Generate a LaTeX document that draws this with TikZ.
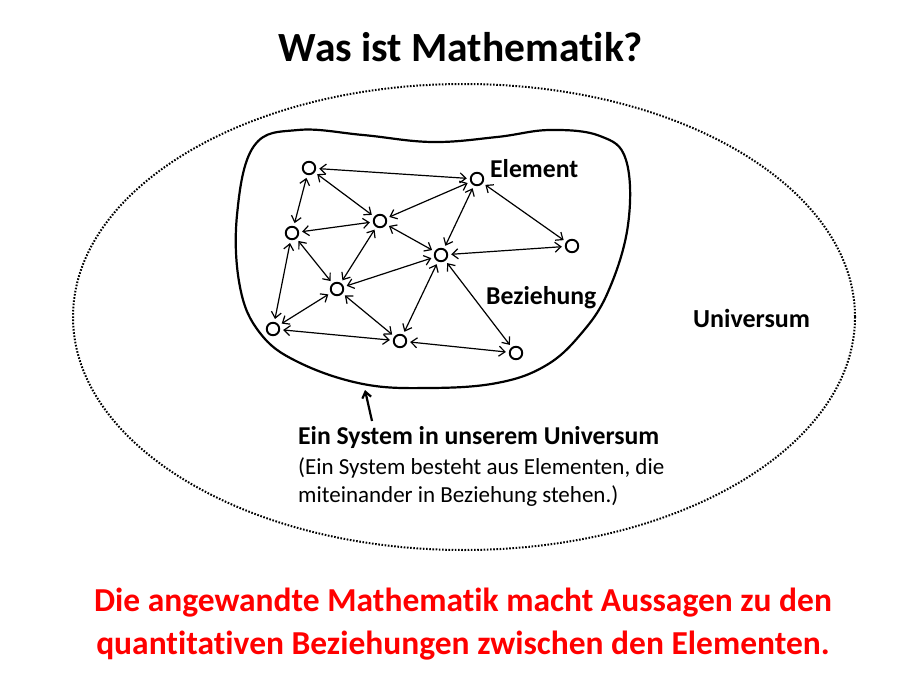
\documentclass[tikz,border=0pt]{standalone}
\usepackage{fontspec}
\setmainfont{Carlito}[Ligatures=NoCommon]
\usetikzlibrary{arrows.meta,positioning}

\begin{document}
\begin{tikzpicture}[x=1pt,y=-1pt,
	elem/.style={circle,draw,line width=1.9pt,minimum size=12.5pt,inner sep=0pt},
	rel/.style={{Straight Barb[length=6pt,width=10pt]}-{Straight Barb[length=6pt,width=10pt]},line width=1.2pt,shorten <=3pt,shorten >=3pt},
	lbl/.style={font=\fontsize{25.7}{30}\selectfont\bfseries,anchor=base west,inner sep=0pt},
	note/.style={font=\fontsize{23}{28}\selectfont,anchor=base west,inner sep=0pt}]
				\useasboundingbox (0,0) rectangle (924,693);

				% title
				\node[font=\fontsize{41.5}{48}\selectfont\bfseries,anchor=base,inner sep=0pt] (title) at (461,62) {Was ist Mathematik?};

				% universe
				\draw[line width=2pt,dash pattern=on 1.6pt off 1.6pt] (464,317) ellipse [x radius=391,y radius=233];
				\node[lbl,font=\fontsize{26}{30}\selectfont\bfseries] (universe) at (693,327) {Universum};

				% system
				\draw[line width=2.2pt] plot[smooth cycle,tension=0.65] coordinates {
					(254,146) (298,130) (363,135) (432,142) (497,137) (550,130)
					(600,136) (626,160) (628,225) (608,292) (580,335) (545,366)
					(497,383) (430,388) (363,384) (298,362) (260,333) (240,287) (237,215)};

				% elements
				\node[elem] (e1) at (309,168) {};
				\node[elem] (e2) at (477,179) {};
				\node[elem] (e3) at (380,221) {};
				\node[elem] (e4) at (292,233) {};
				\node[elem] (e5) at (441,255) {};
				\node[elem] (e6) at (572,246) {};
				\node[elem] (e7) at (337,289) {};
				\node[elem] (e8) at (273,329) {};
				\node[elem] (e9) at (400,341) {};
				\node[elem] (e10) at (516,353) {};

				\draw[rel]
				(e1) edge (e2) (e1) edge (e4) (e1) edge (e3)
				(e2) edge (e3) (e2) edge (e5) (e2) edge (e6)
				(e4) edge (e3) (e4) edge (e7) (e4) edge (e8)
				(e3) edge (e7) (e3) edge (e5)
				(e5) edge (e6) (e5) edge (e7) (e5) edge (e9) (e5) edge (e10)
				(e7) edge (e8) (e7) edge (e9)
				(e8) edge (e9) (e9) edge (e10);

				\node[lbl] (element) at (490,177) {Element};
				\node[lbl] (relation) at (486,304) {Beziehung};

				% pointer to the system
				\node[lbl] (sys) at (298,444) {Ein System in unserem Universum};
				\node[note] (sys2) at (298,474) {(Ein System besteht aus Elementen, die};
				\node[note] (sys3) at (298,502) {miteinander in Beziehung stehen.)};
				\coordinate (tail) at (372,421);
				\coordinate (tip) at (365,390);
				\draw[-{Straight Barb[length=6pt,width=9pt]},line width=2.2pt] (tail) -- (tip);

				% statement
				\node[font=\fontsize{33.5}{38}\selectfont\bfseries,text=red,align=center,inner sep=0pt,anchor=base] (claim) at (463,654)
				{Die angewandte Mathematik macht Aussagen zu den\\[5pt]quantitativen Beziehungen zwischen den Elementen.};
			\end{tikzpicture}
\end{document}
